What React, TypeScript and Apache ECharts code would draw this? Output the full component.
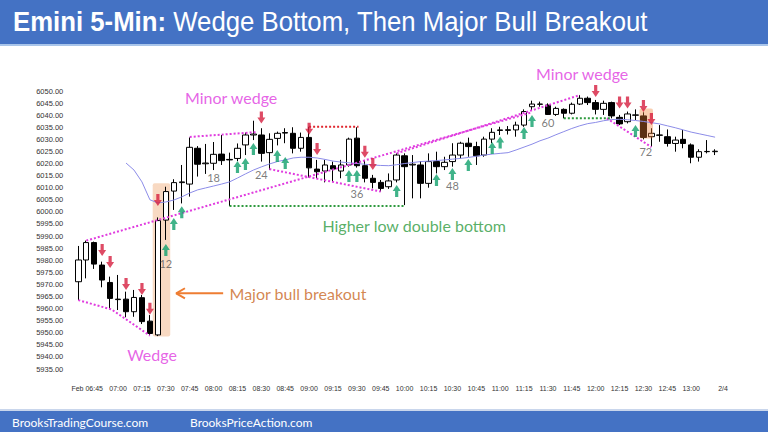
import React, { useEffect, useRef } from 'react';
import * as echarts from 'echarts';

// ---------- DATA ----------
const opens = [
  5971.1, 5980.1, 5987.3, 5978.0, 5970.8, 5963.9, 5963.9, 5958.7, 5964.5, 5954.8,
  5949.1, 5996.6, 6008.6, 6012.1, 6011.5, 6026.3, 6019.9, 6020.1, 6023.9, 6021.7,
  6022.1, 6027.7, 6031.8, 6031.8, 6024.5, 6030.4, 6032.8, 6032.5, 6026.3, 6030.8,
  6017.7, 6016.9, 6019.1, 6016.9, 6019.4, 6030.5, 6019.1, 6013.9, 6012.2, 6010.4,
  6013.2, 6023.2, 6019.4, 6019.4, 6011.8, 6020.8, 6018.7, 6020.8, 6023.5, 6028.4,
  6027.0, 6023.5, 6030.1, 6033.9, 6033.7, 6033.9, 6035.9, 6043.5, 6044.6, 6044.2,
  6040.3, 6042.4, 6040.8, 6044.6, 6047.0, 6045.2, 6042.4, 6045.2, 6039.1, 6037.3,
  6040.1, 6039.7, 6031.1, 6031.8, 6031.1, 6028.3, 6030.0, 6027.7, 6022.6, 6024.9, 6024.9,
];
const highs = [
  5985.9, 5988.1, 5987.7, 5979.4, 5973.2, 5973.9, 5967.0, 5967.7, 5965.6, 5957.3,
  5997.7, 6010.4, 6013.5, 6019.4, 6030.8, 6027.2, 6028.1, 6028.9, 6031.8, 6024.5,
  6028.3, 6032.8, 6037.7, 6034.6, 6032.5, 6033.2, 6034.6, 6035.0, 6032.8, 6035.2,
  6021.5, 6021.5, 6020.8, 6021.5, 6030.7, 6035.0, 6021.5, 6015.3, 6013.2, 6015.9,
  6024.2, 6024.2, 6023.5, 6021.0, 6024.2, 6024.9, 6022.8, 6028.4, 6029.0, 6030.7,
  6029.0, 6031.1, 6034.6, 6035.2, 6035.5, 6037.3, 6042.4, 6046.0, 6045.6, 6044.9,
  6043.5, 6042.8, 6045.2, 6048.3, 6047.7, 6046.3, 6046.0, 6045.6, 6040.1, 6041.5,
  6042.4, 6041.2, 6034.6, 6035.9, 6034.1, 6031.1, 6033.9, 6028.3, 6025.9, 6029.7, 6025.9,
];
const lows = [
  5963.5, 5972.5, 5976.4, 5968.8, 5960.1, 5959.4, 5956.4, 5956.6, 5953.6, 5949.1,
  5948.6, 5988.4, 6000.8, 6003.5, 6006.3, 6014.6, 6015.7, 6017.3, 6019.4, 6002.4,
  6021.0, 6023.5, 6029.7, 6020.8, 6017.3, 6027.5, 6028.4, 6024.2, 6024.9, 6014.2,
  6013.9, 6012.2, 6012.5, 6013.9, 6018.7, 6018.3, 6012.2, 6009.7, 6008.4, 6009.5,
  6012.2, 6002.8, 6005.6, 6005.6, 6010.0, 6015.9, 6017.3, 6018.7, 6022.1, 6022.8,
  6019.4, 6022.8, 6028.4, 6031.8, 6032.0, 6031.1, 6035.2, 6041.9, 6043.5, 6040.1,
  6039.7, 6038.7, 6040.3, 6044.2, 6044.2, 6040.3, 6040.1, 6038.7, 6035.9, 6036.6,
  6038.0, 6030.0, 6027.0, 6029.0, 6027.0, 6024.9, 6026.3, 6020.1, 6020.8, 6024.2, 6023.5,
];
const closes = [
  5980.1, 5987.3, 5978.4, 5971.8, 5964.2, 5963.7, 5958.7, 5964.6, 5954.6, 5949.7,
  5996.4, 6008.4, 6012.1, 6012.4, 6026.7, 6019.7, 6020.2, 6023.8, 6021.2, 6021.5,
  6026.3, 6031.8, 6032.2, 6024.2, 6030.0, 6032.5, 6032.6, 6026.3, 6030.8, 6018.2,
  6016.6, 6019.4, 6017.7, 6019.4, 6030.1, 6019.1, 6013.9, 6012.2, 6009.7, 6012.8,
  6023.5, 6018.7, 6019.7, 6011.8, 6020.8, 6018.7, 6020.5, 6023.5, 6028.4, 6027.0,
  6023.2, 6030.1, 6032.9, 6033.7, 6034.0, 6035.9, 6041.5, 6044.6, 6044.5, 6040.3,
  6042.8, 6040.8, 6044.5, 6047.0, 6045.2, 6042.4, 6044.9, 6039.7, 6036.4, 6040.5,
  6040.0, 6030.8, 6032.5, 6031.7, 6028.3, 6029.7, 6028.3, 6022.6, 6024.9, 6025.0, 6025.1,
];
const ema20 = [
  null, null, null, null, null, null, 6020.2, 6017.3, 6012.4, 6005.0,
  6003.7, 6004.1, 6004.9, 6006.2, 6007.8, 6009.1, 6009.9, 6010.7, 6011.5, 6012.4,
  6014.0, 6015.7, 6017.3, 6018.6, 6019.8, 6020.8, 6021.5, 6022.3, 6022.6, 6022.6,
  6022.3, 6021.7, 6021.0, 6020.6, 6020.3, 6020.0, 6019.7, 6019.4, 6019.2, 6019.1,
  6019.5, 6020.0, 6020.4, 6020.8, 6021.0, 6021.2, 6021.5, 6021.8, 6022.1, 6022.5,
  6023.0, 6023.5, 6023.9, 6024.2, 6024.5, 6025.6, 6026.8, 6028.0, 6029.4, 6030.5,
  6031.9, 6033.2, 6034.5, 6035.6, 6036.5, 6037.0, 6037.7, 6038.2, 6038.3, 6038.1,
  6037.8, 6037.4, 6036.9, 6036.4, 6035.6, 6034.8, 6033.9, 6033.0, 6032.3, 6031.6, 6030.9,
];

// bar close times (5-min bars from the 06:30 open) plus the next-day tick
const barTimes: string[] = [];
for (let i = 1; i <= opens.length; i++) {
  const m = 6 * 60 + 30 + 5 * i;
  barTimes.push(String(Math.floor(m / 60)).padStart(2, '0') + ':' + String(m % 60).padStart(2, '0'));
}
const nextDayTick = '2/4';
const categories = [...barTimes, nextDayTick];
const firstTickPrefix = 'Feb';
const lastTimeTick = '13:00';

// signal arrows: [bar index (0-based), price]
const sellArrows = [
  [3, 5984.2], [4, 5979.3], [6, 5970.2], [8, 5968.1], [9, 5959.9], [10, 6004.9],
  [23, 6039.0], [29, 6034.4], [30, 6026.0], [36, 6024.9], [37, 6019.8],
  [65, 6050.0], [68, 6045.2], [69, 6045.2], [71, 6043.8], [72, 6038.4],
];
const buyArrows = [
  [11, 5984.2], [12, 5995.0], [13, 5999.8], [20, 6018.6], [21, 6019.8], [22, 6026.0],
  [25, 6023.1], [26, 6020.2], [34, 6014.8], [35, 6014.8], [40, 6008.6], [45, 6013.2],
  [47, 6015.7], [49, 6019.4], [52, 6026.4], [53, 6028.7], [56, 6032.6], [57, 6037.6], [70, 6033.5],
];

// trend lines in (bar index, price)
const magentaLines = [
  [[1, 5988.1], [57, 6041.2]],
  [[0, 5963.5], [4.2, 5959.6], [9, 5948.8]],
  [[14, 6031.0], [22.4, 6033.0]],
  [[24, 6017.7], [38, 6008.4]],
  [[40, 6024.2], [63, 6048.3]],
  [[66.4, 6038.7], [72, 6026.8]],
];
const greenLines = [
  [[19, 6002.4], [41, 6002.4]],
  [[61, 6038.7], [67, 6038.7]],
];
const redLines = [[[29, 6035.2], [35.2, 6035.2]]];
const breakoutBox = [[9.35, 6011.8, 11.55, 5948.4]];
const bar72Box = [[70.5, 6042.8, 72.2, 6030.4]];
const pointerShaft = [[18.2, 5966.3], [12.3, 5966.3]];
const pointerHead = [[13.4, 5968.4], [12.3, 5966.3], [13.4, 5964.2]];

const barNumbers = ['12', '18', '24', '36', '48', '60', '72'];
const barNumberX = [11, 17, 23, 35, 47, 59, 71.3];
const barNumberY = [5978.7, 6014.3, 6015.3, 6007.7, 6010.8, 6036.9, 6024.9];

const MAGENTA = '#E03CDF';
const GREEN = '#2E9A3E';
const RED = '#E0262E';
const ORANGE = '#EE7D32';

const notes = [
  { text: 'Minor wedge', x: 19.2, y: 6047.5, color: MAGENTA, align: 'center' },
  { text: 'Minor wedge', x: 63.3, y: 6057.4, color: MAGENTA, align: 'center' },
  { text: 'Wedge', x: 9.26, y: 5940.8, color: MAGENTA, align: 'center' },
  { text: 'Major bull breakout', x: 19.0, y: 5966.3, color: '#C9671F', align: 'left' },
  { text: 'Higher low double bottom', x: 42.2, y: 5994.2, color: GREEN, align: 'center' },
];

const DOWN_ARROW = 'path://M3,0L7,0L7,6L10,6L5,12L0,6L3,6Z';
const UP_ARROW = 'path://M5,0L10,6L7,6L7,12L3,12L3,6L0,6Z';

function measure(font: string, text: string) {
  const c = document.createElement('canvas').getContext('2d')!;
  c.font = font;
  return c.measureText(text).width;
}

export default function App() {
  const ref = useRef<HTMLDivElement>(null);
  useEffect(() => {
    document.body.style.margin = '0';
    const chart = echarts.init(ref.current!, null, { renderer: 'svg' });

    const titleFont = '"Liberation Sans", Arial, sans-serif';
    const tBold = 'Emini 5-Min:';
    const tRest = ' Wedge Bottom, Then Major Bull Breakout';
    const tw = measure('bold 28px ' + titleFont, tBold) + measure('28px ' + titleFont, tRest);
    const titleScale = 635 / tw;

    const nSlots = categories.length;
    const lastTickIndex = categories.indexOf(lastTimeTick);
    const lineSeries = (lines: number[][][], color: string, dash: any) =>
      lines.map((pts) => ({
        type: 'line', xAxisIndex: 1, yAxisIndex: 0, data: pts, symbol: 'none', silent: true,
        lineStyle: { color, width: 2, type: dash }, z: 6, clip: false,
      }));

    const boxSeries = (data: number[][], fill: string, z: number) => ({
      type: 'custom', xAxisIndex: 1, yAxisIndex: 0, z, silent: true, data,
      encode: { x: [0, 2], y: [1, 3] },
      renderItem: (params: any, api: any) => {
        const p1 = api.coord([api.value(0), api.value(1)]);
        const p2 = api.coord([api.value(2), api.value(3)]);
        return {
          type: 'rect',
          shape: { x: p1[0], y: p1[1], width: p2[0] - p1[0], height: p2[1] - p1[1], r: 2 },
          style: { fill },
        };
      },
    });

    const labelFont = '"Liberation Sans", Arial';
    const option: any = {
      animation: false,
      backgroundColor: '#ffffff',
      grid: { left: 74.3, right: 768 - 74.3 - nSlots * 7.96, top: 91, bottom: 63 },
      xAxis: [
        {
          type: 'category', data: categories, boundaryGap: true,
          axisLine: { show: false }, axisTick: { show: false }, splitLine: { show: false },
          axisLabel: {
            interval: (i: number) => (i % 3 === 2 && i <= lastTickIndex) || i === nSlots - 1,
            hideOverlap: false, showMaxLabel: true,
            fontSize: 7, color: '#333', margin: 16, fontFamily: labelFont,
            formatter: (v: string, i: number) => (i === 2 ? '{f|' + firstTickPrefix + ' ' + v + '}' : v),
            rich: { f: { fontSize: 7, color: '#333', padding: [0, 14, 0, 0], fontFamily: labelFont } },
          },
        },
        { type: 'value', min: -0.5, max: nSlots - 0.5, show: false },
      ],
      yAxis: {
        type: 'value', min: 5935, max: 6050, interval: 5,
        axisLine: { show: false }, axisTick: { show: false }, splitLine: { show: false },
        axisLabel: { formatter: (v: number) => v.toFixed(2), fontSize: 7.5, color: '#333', margin: 11, fontFamily: labelFont },
      },
      graphic: [
        { type: 'rect', shape: { x: 0, y: 0, width: 768, height: 44 }, style: { fill: '#4472C4' }, z: 10 },
        { type: 'rect', shape: { x: 0, y: 44, width: 768, height: 2 }, style: { fill: '#A9C5EA' }, z: 10 },
        {
          type: 'text', x: 13, y: 22, scaleX: titleScale, z: 11,
          style: {
            text: '{b|' + tBold + '}{n|' + tRest + '}', verticalAlign: 'middle', fill: '#fff',
            rich: {
              b: { fontWeight: 'bold', fontSize: 28, fontFamily: titleFont, fill: '#fff' },
              n: { fontSize: 28, fontFamily: titleFont, fill: '#fff' },
            },
          },
        },
        { type: 'rect', shape: { x: 0, y: 409, width: 768, height: 2 }, style: { fill: '#C9D6EC' }, z: 10 },
        { type: 'rect', shape: { x: 0, y: 411, width: 768, height: 21 }, style: { fill: '#4472C4' }, z: 10 },
        { type: 'text', x: 12, y: 422, z: 11, style: { text: 'BrooksTradingCourse.com', fill: '#fff', fontSize: 12, fontFamily: 'Lato', verticalAlign: 'middle' } },
        { type: 'text', x: 190, y: 422, z: 11, style: { text: 'BrooksPriceAction.com', fill: '#fff', fontSize: 12, fontFamily: 'Lato', verticalAlign: 'middle' } },
      ],
      series: [
        boxSeries(breakoutBox, 'rgba(240,170,120,0.45)', 1),
        {
          type: 'candlestick', xAxisIndex: 0, yAxisIndex: 0, z: 3, barWidth: 6,
          data: opens.map((o, i) => [o, closes[i], lows[i], highs[i]]),
          itemStyle: { color: '#ffffff', color0: '#000000', borderColor: '#000000', borderColor0: '#000000', borderWidth: 1 },
        },
        boxSeries(bar72Box, 'rgba(238,125,50,0.38)', 4),
        {
          type: 'line', xAxisIndex: 0, yAxisIndex: 0, data: ema20, symbol: 'none', z: 5, silent: true,
          lineStyle: { color: '#8C8CE8', width: 1 },
        },
        ...lineSeries(magentaLines, MAGENTA, [2, 2]),
        ...lineSeries(greenLines, GREEN, [2, 2]),
        ...lineSeries(redLines, RED, [2, 2]),
        { type: 'line', xAxisIndex: 1, data: pointerShaft, symbol: 'none', z: 6, lineStyle: { color: ORANGE, width: 2 }, clip: false },
        { type: 'line', xAxisIndex: 1, data: pointerHead, symbol: 'none', z: 6, lineStyle: { color: ORANGE, width: 2 }, clip: false },
        {
          type: 'scatter', xAxisIndex: 1, data: sellArrows, symbol: DOWN_ARROW, symbolSize: [8, 12],
          itemStyle: { color: '#D61E3E' }, z: 7, clip: false, silent: true,
        },
        {
          type: 'scatter', xAxisIndex: 1, data: buyArrows, symbol: UP_ARROW, symbolSize: [8, 12],
          itemStyle: { color: '#10A06C' }, z: 7, clip: false, silent: true,
        },
        {
          type: 'scatter', xAxisIndex: 1, symbolSize: 1, itemStyle: { color: 'rgba(0,0,0,0)' }, z: 8, clip: false, silent: true,
          data: barNumbers.map((t, i) => ({ value: [barNumberX[i], barNumberY[i]], name: t })),
          label: { show: true, position: 'inside', formatter: (p: any) => p.name, color: '#595959', fontSize: 11, fontFamily: 'Lato' },
        },
        {
          type: 'scatter', xAxisIndex: 1, symbolSize: 1, itemStyle: { color: 'rgba(0,0,0,0)' }, z: 8, clip: false, silent: true,
          data: notes.map((n) => ({
            value: [n.x, n.y], name: n.text,
            label: { show: true, position: 'inside', align: n.align, formatter: n.text, color: n.color, fontSize: 16, fontFamily: 'Lato' },
          })),
          label: { show: true, position: 'inside' },
        },
      ],
    };
    chart.setOption(option);
    return () => chart.dispose();
  }, []);
  return <div ref={ref} style={{ width: 768, height: 432 }} />;
}
